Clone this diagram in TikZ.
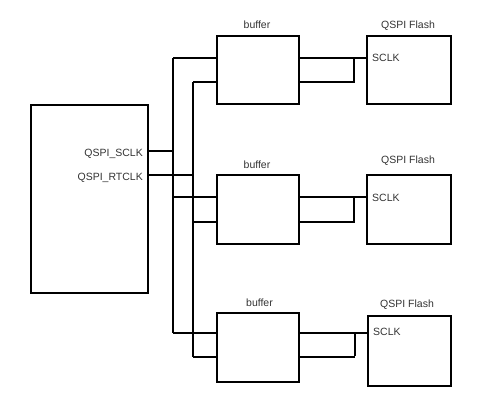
\documentclass[tikz,border=0pt]{standalone}
\usepackage{fontspec}
\setmainfont{Liberation Sans}
\begin{document}
\begin{tikzpicture}[x=1pt,y=-1pt,
  blk/.style={draw=black,line width=2pt,inner sep=0pt,minimum width=#1},
  wire/.style={draw=black,line width=2pt},
  txt/.style={inner sep=0pt,text=black!80,font=\fontsize{10.5}{12}\selectfont}]
\useasboundingbox (0,0) rectangle (495,408);
% boxes
\node[blk=117pt,minimum height=188pt] (main) at (89.5,199) {};
\node[blk=82pt,minimum height=68pt] (b1) at (258,70) {};
\node[blk=84pt,minimum height=68pt] (f1) at (409,70) {};
\node[blk=82pt,minimum height=69pt] (b2) at (258,209.5) {};
\node[blk=84pt,minimum height=69pt] (f2) at (409,209.5) {};
\node[blk=82pt,minimum height=69pt] (b3) at (258,347.5) {};
\node[blk=83pt,minimum height=70pt] (f3) at (409.5,351) {};
% labels
\node[txt] (lb1) at (257,25) {buffer};
\node[txt] (lf1) at (408,25.5) {QSPI Flash};
\node[txt] (lb2) at (257,165) {buffer};
\node[txt] (lf2) at (408,160.5) {QSPI Flash};
\node[txt] (lb3) at (259.5,302.5) {buffer};
\node[txt] (lf3) at (407,305) {QSPI Flash};
\node[txt,anchor=east] (ls) at (143,154) {QSPI\_SCLK};
\node[txt,anchor=east] (lr) at (143,178) {QSPI\_RTCLK};
\node[txt,anchor=west] (s1) at (372,58) {SCLK};
\node[txt,anchor=west] (s2) at (372,197.5) {SCLK};
\node[txt,anchor=west] (s3) at (373,331.5) {SCLK};
% bus coordinates
\coordinate (ms) at (main.east |- 0,151);
\coordinate (mr) at (main.east |- 0,175);
\coordinate (vs) at (173,151);
\coordinate (vr) at (193,175);
\coordinate (vs1) at (173,57.5);
\coordinate (vr1) at (193,82);
\coordinate (vs2) at (173,197);
\coordinate (vr2) at (193,221.5);
\coordinate (vs3) at (173,333);
\coordinate (vr3) at (193,357);
\draw[wire] (ms) -- (vs);
\draw[wire] (mr) -- (vr);
\draw[wire] (vs1) -- (vs3);
\draw[wire] (vr1) -- (vr3);
\draw[wire] (vs1) -- (b1.west |- vs1);
\draw[wire] (vr1) -- (b1.west |- vr1);
\draw[wire] (vs2) -- (b2.west |- vs2);
\draw[wire] (vr2) -- (b2.west |- vr2);
\draw[wire] (vs3) -- (b3.west |- vs3);
\draw[wire] (vr3) -- (b3.west |- vr3);
% outputs
\coordinate (j1) at (354,57.5);
\coordinate (j2) at (354,197);
\coordinate (j3) at (355,333);
\draw[wire] (b1.east |- vs1) -- (f1.west |- vs1);
\draw[wire] (b1.east |- vr1) -| (j1);
\draw[wire] (b2.east |- vs2) -- (f2.west |- vs2);
\draw[wire] (b2.east |- vr2) -| (j2);
\draw[wire] (b3.east |- vs3) -- (f3.west |- vs3);
\draw[wire] (b3.east |- vr3) -- (j3 |- vr3);
\draw[wire] (j3) -- ([yshift=1pt]j3 |- vr3);
\end{tikzpicture}
\end{document}
